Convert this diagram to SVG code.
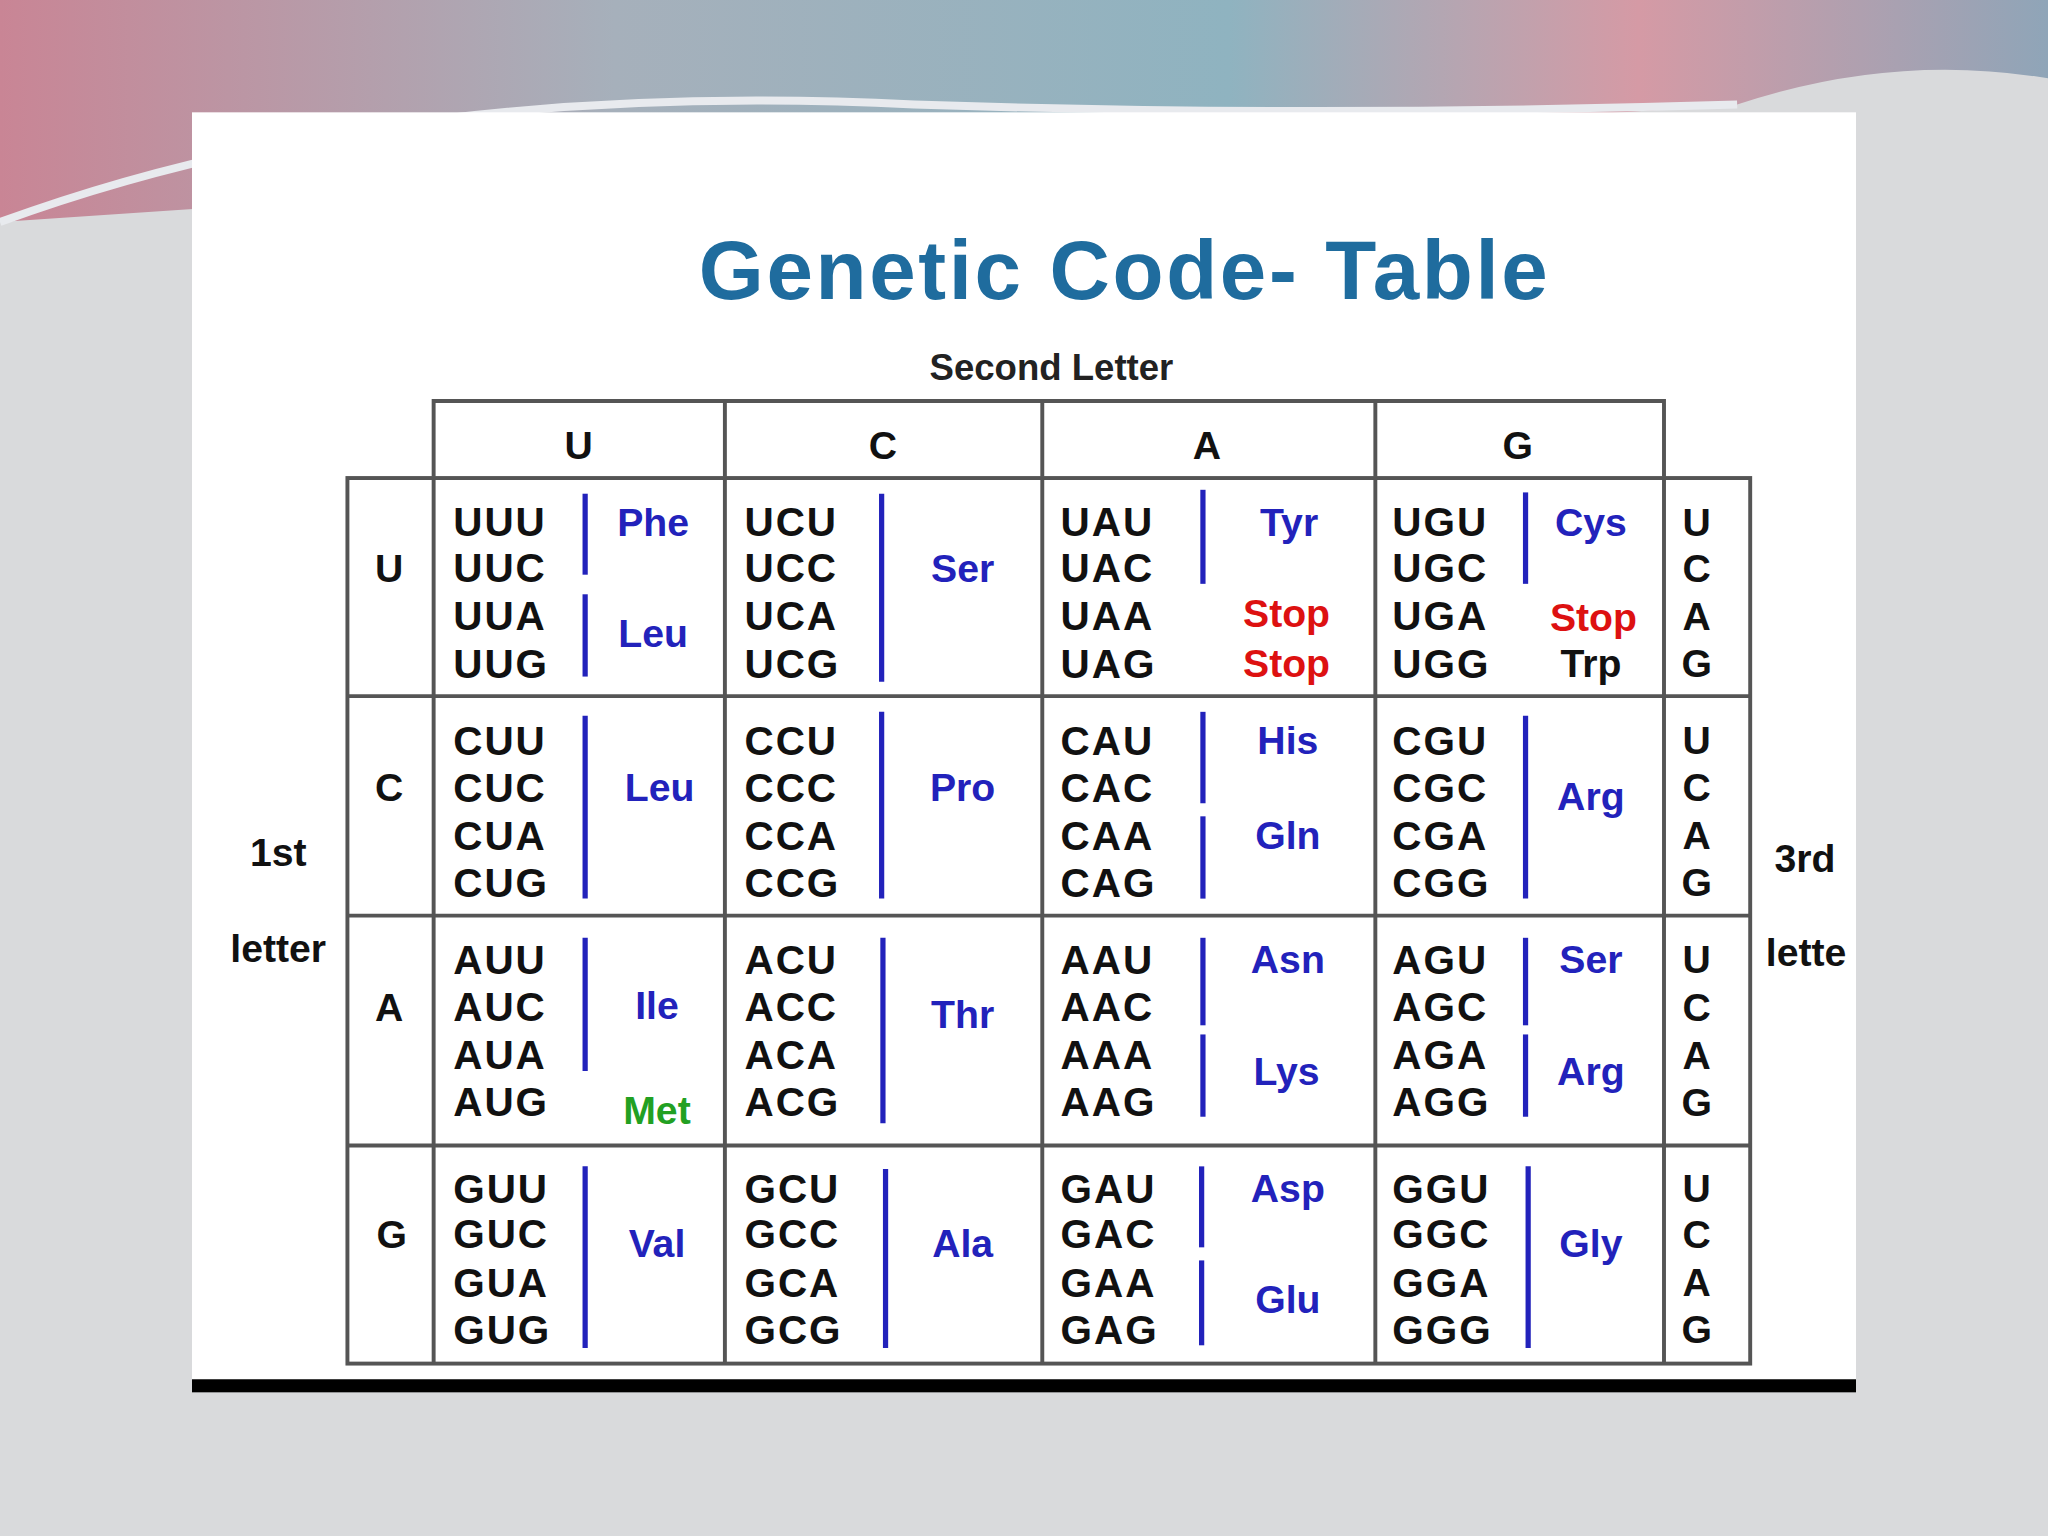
<svg xmlns="http://www.w3.org/2000/svg" width="2048" height="1536" viewBox="0 0 2048 1536">
<defs>
<linearGradient id="top" x1="0" y1="0" x2="1" y2="0">
<stop offset="0" stop-color="#c98595"/><stop offset="0.3" stop-color="#a6b0bb"/><stop offset="0.6" stop-color="#8fb3c0"/><stop offset="0.8" stop-color="#d59aa5"/><stop offset="1" stop-color="#8fa5b8"/>
</linearGradient>
<style>
.t{font-family:"Liberation Sans",Arial,sans-serif;font-weight:bold;dominant-baseline:central}
.c{font-size:31px;fill:#111;letter-spacing:1.5px}
.a{font-size:30px;fill:#2222bb;text-anchor:middle}
.r{fill:#dd1111}
.g{fill:#22a022}
.k{fill:#111}
.l{font-size:30px;fill:#111;text-anchor:middle}
.grid{fill:none;stroke:#555;stroke-width:3}
.bar{stroke:#2222bb;stroke-width:4}
</style>
</defs>
<rect width="2048" height="1536" fill="#d9dadc"/>
<g transform="scale(1.30612)">
<path d="M0 0H1568V60Q1450 40 1330 80L0 170Z" fill="url(#top)"/>
<path d="M0 170Q300 60 700 80Q1000 90 1330 80" fill="none" stroke="#e8eaee" stroke-width="6"/>
<rect x="147" y="86" width="1274" height="974" fill="#fff"/>
<rect x="147" y="1056" width="1274" height="10" fill="#000"/>
<text class="t" x="860" y="207" font-size="64" fill="#1f6c9e" text-anchor="middle" font-family="'Open Sans',sans-serif" textLength="650">Genetic Code- Table</text>
<text class="t" x="805" y="281" font-size="28" fill="#222" text-anchor="middle">Second Letter</text>
<g id="header">
<path class="grid" d="M332 365V307H1274V365M555 307V365M798 307V365M1053 307V365"/>
<text class="t l" x="443" y="341">U</text><text class="t l" x="676" y="341">C</text><text class="t l" x="924" y="341">A</text><text class="t l" x="1162" y="341">G</text>
</g>
<g id="table">
<rect class="grid" x="266" y="366" width="1074" height="678"/>
<path class="grid" d="M266 533H1340M266 701H1340M266 877H1340M332 366V1044M555 366V1044M798 366V1044M1053 366V1044M1274 366V1044"/>
</g>
<g id="labels">
<text class="t l" x="298" y="435">U</text><text class="t l" x="298" y="603">C</text><text class="t l" x="298" y="771">A</text><text class="t l" x="300" y="945">G</text>
<text class="t l" x="213" y="653">1st</text><text class="t l" x="213" y="726">letter</text>
<text class="t l" x="1382" y="657">3rd</text><text class="t" x="1352" y="729" font-size="30" fill="#111">lette</text>
<g class="t l">
<text x="1299" y="400">U</text><text x="1299" y="435">C</text><text x="1299" y="472">A</text><text x="1299" y="508">G</text>
<text x="1299" y="567">U</text><text x="1299" y="603">C</text><text x="1299" y="640">A</text><text x="1299" y="676">G</text>
<text x="1299" y="735">U</text><text x="1299" y="771">C</text><text x="1299" y="808">A</text><text x="1299" y="844">G</text>
<text x="1299" y="910">U</text><text x="1299" y="945">C</text><text x="1299" y="982">A</text><text x="1299" y="1018">G</text>
</g>
</g>
<g id="codons" class="t c">
<text x="347" y="400">UUU</text><text x="347" y="435">UUC</text><text x="347" y="472">UUA</text><text x="347" y="508">UUG</text>
<text x="570" y="400">UCU</text><text x="570" y="435">UCC</text><text x="570" y="472">UCA</text><text x="570" y="508">UCG</text>
<text x="812" y="400">UAU</text><text x="812" y="435">UAC</text><text x="812" y="472">UAA</text><text x="812" y="508">UAG</text>
<text x="1066" y="400">UGU</text><text x="1066" y="435">UGC</text><text x="1066" y="472">UGA</text><text x="1066" y="508">UGG</text>
<text x="347" y="567">CUU</text><text x="347" y="603">CUC</text><text x="347" y="640">CUA</text><text x="347" y="676">CUG</text>
<text x="570" y="567">CCU</text><text x="570" y="603">CCC</text><text x="570" y="640">CCA</text><text x="570" y="676">CCG</text>
<text x="812" y="567">CAU</text><text x="812" y="603">CAC</text><text x="812" y="640">CAA</text><text x="812" y="676">CAG</text>
<text x="1066" y="567">CGU</text><text x="1066" y="603">CGC</text><text x="1066" y="640">CGA</text><text x="1066" y="676">CGG</text>
<text x="347" y="735">AUU</text><text x="347" y="771">AUC</text><text x="347" y="808">AUA</text><text x="347" y="844">AUG</text>
<text x="570" y="735">ACU</text><text x="570" y="771">ACC</text><text x="570" y="808">ACA</text><text x="570" y="844">ACG</text>
<text x="812" y="735">AAU</text><text x="812" y="771">AAC</text><text x="812" y="808">AAA</text><text x="812" y="844">AAG</text>
<text x="1066" y="735">AGU</text><text x="1066" y="771">AGC</text><text x="1066" y="808">AGA</text><text x="1066" y="844">AGG</text>
<text x="347" y="910">GUU</text><text x="347" y="945">GUC</text><text x="347" y="982">GUA</text><text x="347" y="1018">GUG</text>
<text x="570" y="910">GCU</text><text x="570" y="945">GCC</text><text x="570" y="982">GCA</text><text x="570" y="1018">GCG</text>
<text x="812" y="910">GAU</text><text x="812" y="945">GAC</text><text x="812" y="982">GAA</text><text x="812" y="1018">GAG</text>
<text x="1066" y="910">GGU</text><text x="1066" y="945">GGC</text><text x="1066" y="982">GGA</text><text x="1066" y="1018">GGG</text>
</g>
<g id="connectors" class="bar">
<line x1="448" y1="378" x2="448" y2="440"/><line x1="448" y1="455" x2="448" y2="518"/>
<line x1="675" y1="378" x2="675" y2="522"/><line x1="921" y1="375" x2="921" y2="447"/><line x1="1168" y1="377" x2="1168" y2="447"/>
<line x1="448" y1="548" x2="448" y2="688"/><line x1="675" y1="545" x2="675" y2="688"/>
<line x1="921" y1="545" x2="921" y2="615"/><line x1="921" y1="625" x2="921" y2="688"/><line x1="1168" y1="548" x2="1168" y2="688"/>
<line x1="448" y1="718" x2="448" y2="820"/><line x1="676" y1="718" x2="676" y2="860"/>
<line x1="921" y1="718" x2="921" y2="785"/><line x1="921" y1="792" x2="921" y2="855"/>
<line x1="1168" y1="718" x2="1168" y2="785"/><line x1="1168" y1="792" x2="1168" y2="855"/>
<line x1="448" y1="893" x2="448" y2="1032"/><line x1="678" y1="895" x2="678" y2="1032"/>
<line x1="920" y1="893" x2="920" y2="955"/><line x1="920" y1="965" x2="920" y2="1030"/><line x1="1170" y1="893" x2="1170" y2="1032"/>
</g>
<g id="aminoacids" class="t a">
<text x="500" y="400">Phe</text><text x="500" y="485">Leu</text><text x="737" y="435">Ser</text><text x="987" y="400">Tyr</text>
<text class="r" x="985" y="470">Stop</text><text class="r" x="985" y="508">Stop</text>
<text x="1218" y="400">Cys</text><text class="r" x="1220" y="473">Stop</text><text class="k" x="1218" y="508">Trp</text>
<text x="505" y="603">Leu</text><text x="737" y="603">Pro</text><text x="986" y="567">His</text><text x="986" y="640">Gln</text><text x="1218" y="610">Arg</text>
<text x="503" y="770">Ile</text><text class="g" x="503" y="850">Met</text><text x="737" y="777">Thr</text>
<text x="986" y="735">Asn</text><text x="985" y="820">Lys</text><text x="1218" y="735">Ser</text><text x="1218" y="820">Arg</text>
<text x="503" y="952">Val</text><text x="737" y="952">Ala</text><text x="986" y="910">Asp</text><text x="986" y="995">Glu</text><text x="1218" y="952">Gly</text>
</g>
</g>
</svg>
